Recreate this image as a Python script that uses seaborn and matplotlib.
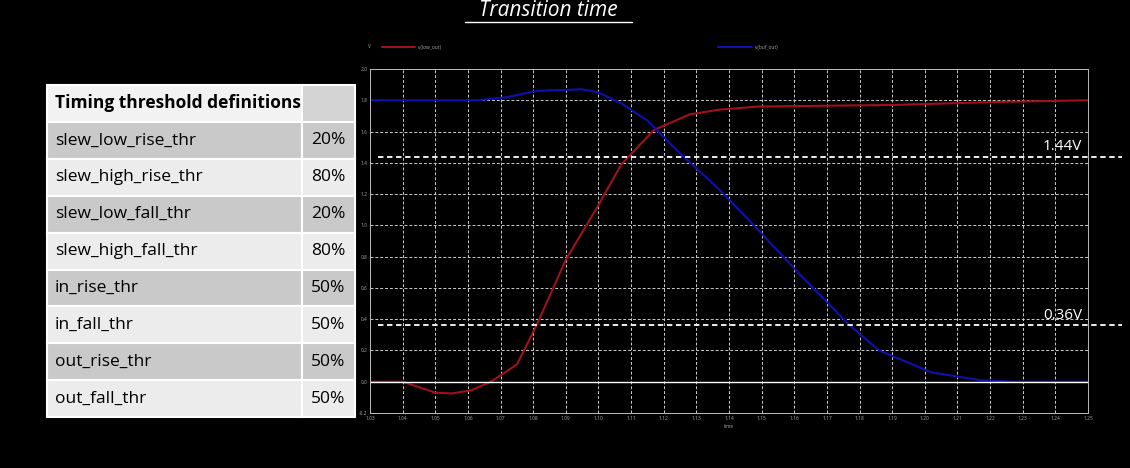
import matplotlib
matplotlib.use("Agg")
import matplotlib.pyplot as plt
import seaborn as sns
import numpy as np

sns.set_theme(style="dark")
plt.rcParams['font.family'] = ['Open Sans', 'DejaVu Sans']

red_t = [1.03, 1.04, 1.05, 1.055, 1.061, 1.067, 1.075, 1.081, 1.09, 1.10, 1.107, 1.117, 1.128, 1.137, 1.149, 1.19, 1.224, 1.25]
red_v = [0.0, 0.0, -0.07, -0.075, -0.055, 0.0, 0.11, 0.36, 0.78, 1.13, 1.39, 1.61, 1.71, 1.74, 1.76, 1.77, 1.79, 1.80]
blue_t = [1.03, 1.063, 1.072, 1.081, 1.095, 1.10, 1.107, 1.115, 1.124, 1.137, 1.149, 1.162, 1.177, 1.186, 1.202, 1.217, 1.227, 1.25]
blue_v = [1.80, 1.80, 1.82, 1.86, 1.87, 1.85, 1.78, 1.67, 1.48, 1.23, 0.97, 0.68, 0.36, 0.20, 0.06, 0.01, 0.0, 0.0]
thresholds = [1.44, 0.36]
threshold_labels = ["1.44V", "0.36V"]
xticks = [round(1.03 + 0.01 * i, 2) for i in range(23)]
yticks = [round(-0.2 + 0.2 * i, 1) for i in range(12)]
table_params = ["slew_low_rise_thr", "slew_high_rise_thr", "slew_low_fall_thr", "slew_high_fall_thr",
                "in_rise_thr", "in_fall_thr", "out_rise_thr", "out_fall_thr"]
table_values = ["20%", "80%", "20%", "80%", "50%", "50%", "50%", "50%"]

W, H = 1130, 468
fig = plt.figure(figsize=(W / 100, H / 100), dpi=100, facecolor="black")

fig.text(548 / W, 1 - 10 / H, "Transition time", color="white", fontsize=15, style="italic",
         ha="center", va="center")
fig.add_artist(plt.Line2D([465 / W, 632 / W], [1 - 22 / H, 1 - 22 / H], color="white", lw=1))

ax = fig.add_axes([370 / W, 1 - 413 / H, (1088 - 370) / W, (413 - 69) / H])
ax.set_facecolor("black")
sns.lineplot(x=red_t, y=red_v, color="#a0101c", lw=1.5, ax=ax)
sns.lineplot(x=blue_t, y=blue_v, color="#1010b0", lw=1.5, ax=ax)
ax.axhline(0, color="white", lw=1)
ax.set_xlim(1.03, 1.25)
ax.set_ylim(-0.2, 2.0)
ax.set_xticks(xticks)
ax.set_yticks(yticks)
ax.set_xticklabels([f"{v:.2f}" for v in xticks], fontsize=3.5, color="#aaaaaa")
ax.set_yticklabels([f"{v:.1f}" for v in yticks], fontsize=3.5, color="#aaaaaa")
ax.tick_params(length=0, pad=2)
ax.grid(True, color="#cccccc", lw=0.7, ls=(0, (3, 2)))
for s in ax.spines.values():
    s.set_color("#bbbbbb"); s.set_linewidth(0.7)
ax.set_xlabel("time", fontsize=3.5, color="#aaaaaa", labelpad=2)

for th, lab in zip(thresholds, threshold_labels):
    y = 1 - (69 + (2.0 - th) / 2.2 * 344) / H
    fig.add_artist(plt.Line2D([378 / W, 1122 / W], [y, y], color="white", lw=1.3, ls=(0, (3, 2))))
    fig.text(1082 / W, y + 0.005, lab, color="white", fontsize=11, ha="right", va="bottom")

# legend
fig.add_artist(plt.Line2D([382 / W, 415 / W], [1 - 47 / H] * 2, color="#a0101c", lw=1.5))
fig.text(418 / W, 1 - 47 / H, "v(low_out)", color="#aaaaaa", fontsize=3.5, va="center")
fig.add_artist(plt.Line2D([718 / W, 752 / W], [1 - 47 / H] * 2, color="#1010b0", lw=1.5))
fig.text(755 / W, 1 - 47 / H, "v(buf_out)", color="#aaaaaa", fontsize=3.5, va="center")
fig.text(368 / W, 1 - 47 / H, "V", color="#aaaaaa", fontsize=3.5, va="center")

# table
tx0, tx1, tx2 = 47, 302, 355
ty0, rh = 85, 36.9
rows = [("Timing threshold definitions", "")] + list(zip(table_params, table_values))
for i, (p, v) in enumerate(rows):
    top = ty0 + i * rh
    if i == 0:
        c1, c2 = "#f2f2f2", "#d4d4d4"
    elif i % 2 == 1:
        c1 = c2 = "#c9c9c9"
    else:
        c1 = c2 = "#ececec"
    for (a, b, c) in [(tx0, tx1, c1), (tx1, tx2, c2)]:
        fig.add_artist(plt.Rectangle((a / W, 1 - (top + rh) / H), (b - a) / W, rh / H,
                                     facecolor=c, edgecolor="white", lw=1.5))
    fig.text((tx0 + 8) / W, 1 - (top + rh / 2) / H, p, fontsize=12.5, color="black",
             va="center", weight="bold" if i == 0 else "normal")
    fig.text((tx1 + 26) / W, 1 - (top + rh / 2) / H, v, fontsize=12.5, color="black",
             va="center", ha="center")

fig.savefig("out.png", dpi=100, facecolor="black")
